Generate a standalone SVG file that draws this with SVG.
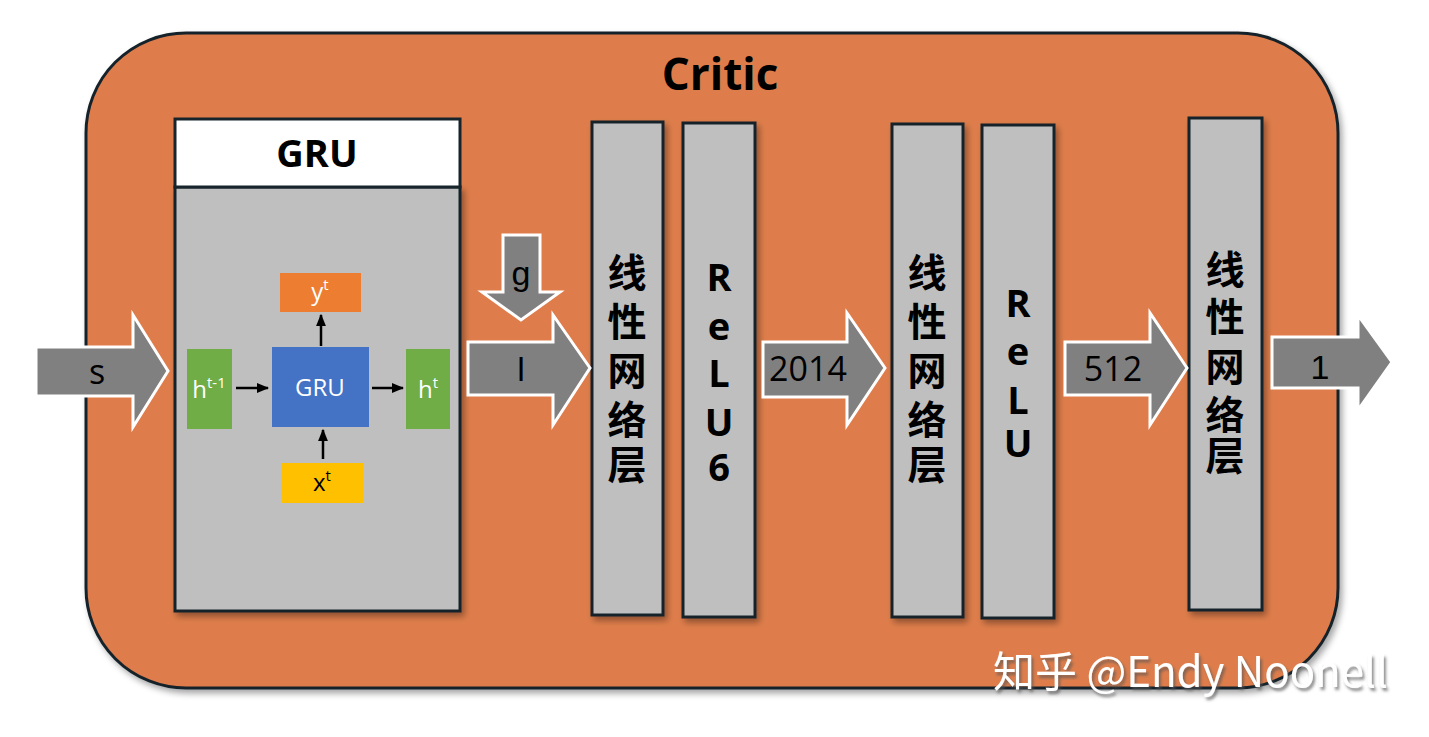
<svg xmlns="http://www.w3.org/2000/svg" width="1429" height="737" viewBox="0 0 1429 737">
<defs>
<filter id="sh" x="-10%" y="-10%" width="130%" height="130%"><feDropShadow dx="3" dy="4" stdDeviation="3" flood-color="#000" flood-opacity="0.35"/></filter>
<filter id="tsh" x="-10%" y="-20%" width="130%" height="150%"><feDropShadow dx="2" dy="3" stdDeviation="1.5" flood-color="#555" flood-opacity="0.7"/></filter>
<marker id="ah" viewBox="0 0 10 10" refX="9" refY="5" markerWidth="5" markerHeight="5" orient="auto"><path d="M0,1 L10,5 L0,9 Z" fill="#000"/></marker>
</defs>
<style>
.layer{fill:#BFBFBF;stroke:#17242B;stroke-width:3;}
.cjk{font-family:"Noto Sans CJK SC","Noto Sans",sans-serif;font-weight:bold;font-size:39px;fill:#000;text-anchor:middle;}
.rl{font-family:"Open Sans","Liberation Sans",sans-serif;font-weight:bold;font-size:38px;fill:#000;text-anchor:middle;}
.blk{fill:#808080;stroke:#fff;stroke-width:3;stroke-linejoin:miter;}
.al{font-family:"Open Sans","Liberation Sans",sans-serif;font-size:34px;fill:#000;text-anchor:middle;}
.al2{font-family:"Liberation Sans",Arial,sans-serif;font-size:34px;fill:#000;text-anchor:middle;}
.in{font-family:"Open Sans","Liberation Sans",sans-serif;font-size:24px;text-anchor:middle;}
.link{stroke:#000;stroke-width:2.5;fill:none;marker-end:url(#ah);}
</style>
<rect width="1429" height="737" fill="#fff"/>
<g id="critic">
<rect x="86" y="33" width="1252" height="655" rx="100" ry="100" fill="#DE7D4C" stroke="#17242B" stroke-width="3" filter="url(#sh)"/>
<text x="720" y="90" font-family="'Open Sans','Liberation Sans',sans-serif" font-weight="bold" font-size="44" text-anchor="middle" fill="#000">Critic</text>
</g>
<g id="gru-block">
<rect x="175" y="187" width="285" height="424" fill="#BFBFBF" stroke="#17242B" stroke-width="3" filter="url(#sh)"/>
<rect x="175" y="119" width="285" height="68" fill="#fff" stroke="#17242B" stroke-width="3"/>
<text x="317" y="167" font-family="'Open Sans','Liberation Sans',sans-serif" font-weight="bold" font-size="38" text-anchor="middle" fill="#000">GRU</text>
</g>
<g id="gru-cell">
<rect x="272" y="347" width="97" height="80" fill="#4472C4"/>
<text x="320" y="396" class="in" fill="#fff">GRU</text>
</g>
<g id="h-prev">
<rect x="187" y="349" width="45" height="80" fill="#70AD47"/>
<text x="209" y="398" class="in" fill="#fff">h<tspan font-size="15" dy="-10">t-1</tspan></text>
</g>
<g id="h-t">
<rect x="406" y="349" width="44" height="80" fill="#70AD47"/>
<text x="428" y="398" class="in" fill="#fff">h<tspan font-size="15" dy="-10">t</tspan></text>
</g>
<g id="y-t">
<rect x="280" y="273" width="81" height="39" fill="#ED7D31"/>
<text x="320" y="300" class="in" fill="#fff">y<tspan font-size="15" dy="-10">t</tspan></text>
</g>
<g id="x-t">
<rect x="282" y="463" width="81" height="40" fill="#FFC000"/>
<text x="322" y="491" class="in" fill="#000">x<tspan font-size="15" dy="-10">t</tspan></text>
</g>
<g id="linear1">
<rect x="592" y="122" width="71" height="493" class="layer" filter="url(#sh)"/>
<text class="cjk"><tspan x="627" y="287">线</tspan><tspan x="627" y="336">性</tspan><tspan x="627" y="385">网</tspan><tspan x="627" y="434">络</tspan><tspan x="627" y="479">层</tspan></text>
</g>
<g id="relu6">
<rect x="683" y="123" width="72" height="494" class="layer" filter="url(#sh)"/>
<text class="rl"><tspan x="719" y="291">R</tspan><tspan x="719" y="340">e</tspan><tspan x="719" y="387">L</tspan><tspan x="719" y="436">U</tspan><tspan x="719" y="481">6</tspan></text>
</g>
<g id="linear2">
<rect x="892" y="124" width="71" height="493" class="layer" filter="url(#sh)"/>
<text class="cjk"><tspan x="927" y="287">线</tspan><tspan x="927" y="336">性</tspan><tspan x="927" y="385">网</tspan><tspan x="927" y="434">络</tspan><tspan x="927" y="479">层</tspan></text>
</g>
<g id="relu">
<rect x="982" y="125" width="72" height="493" class="layer" filter="url(#sh)"/>
<text class="rl"><tspan x="1018" y="317">R</tspan><tspan x="1018" y="365">e</tspan><tspan x="1018" y="414">L</tspan><tspan x="1018" y="457">U</tspan></text>
</g>
<g id="linear3">
<rect x="1189" y="118" width="73" height="492" class="layer" filter="url(#sh)"/>
<text class="cjk"><tspan x="1225" y="284">线</tspan><tspan x="1225" y="331">性</tspan><tspan x="1225" y="381">网</tspan><tspan x="1225" y="429">络</tspan><tspan x="1225" y="470">层</tspan></text>
</g>
<g id="connectors">
<line x1="236" y1="388" x2="268" y2="388" class="link"/>
<line x1="372" y1="388" x2="403" y2="388" class="link"/>
<line x1="323" y1="459" x2="323" y2="430" class="link"/>
<line x1="321" y1="346" x2="321" y2="315" class="link"/>
<path class="blk" d="M36,347 H133 V315 L168,371 L133,427 V396 H36 Z"/>
<text x="97" y="384" class="al">s</text>
<path class="blk" d="M468,342 H553 V315 L590,368 L553,425 V395 H468 Z"/>
<text x="521" y="381" class="al2">l</text>
<path class="blk" d="M503,235 H540 V292 H560 L521,320 L482,292 H503 Z"/>
<text x="521" y="285" class="al2">g</text>
<path class="blk" d="M763,342 H847 V313 L885,368 L847,425 V397 H763 Z"/>
<text x="808" y="381" class="al">2014</text>
<path class="blk" d="M1065,342 H1150 V313 L1187,368 L1150,425 V395 H1065 Z"/>
<text x="1113" y="381" class="al">512</text>
<path class="blk" d="M1272,337 H1358 V315 L1392,362 L1358,410 V388 H1272 Z"/>
<text x="1320" y="379" class="al2">1</text>
</g>
<text x="993" y="687" font-family="'Noto Sans CJK SC','Noto Sans',sans-serif" font-size="42" fill="#fff" filter="url(#tsh)">知乎 @Endy Noonell</text>
</svg>
